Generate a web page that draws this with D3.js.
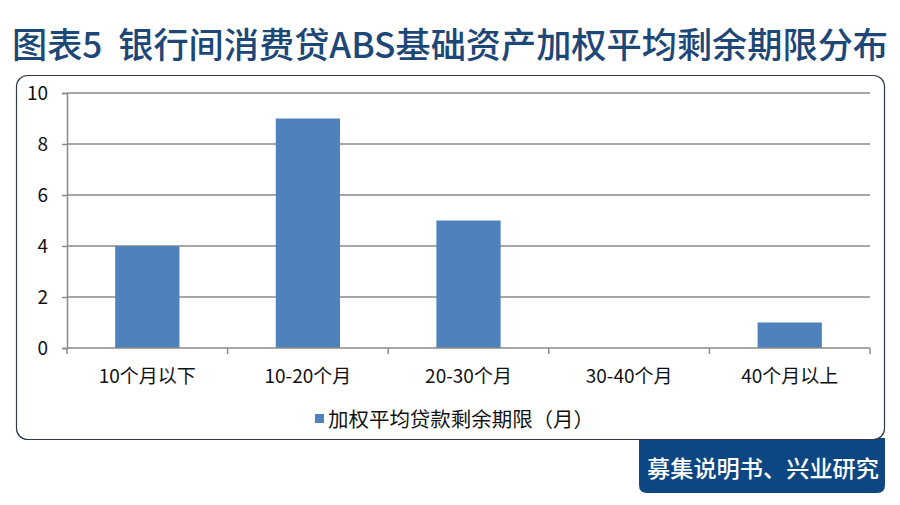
<!DOCTYPE html>
<html><head><meta charset="utf-8">
<script src="https://cdn.jsdelivr.net/npm/d3@7"></script>
<style>
html,body{margin:0;padding:0;background:#fff;}
svg{display:block;}
</style></head>
<body>
<svg id="chart" width="900" height="505"></svg>
<script>
const titleText = "图表5  银行间消费贷ABS基础资产加权平均剩余期限分布";
const categories = ["10个月以下", "10-20个月", "20-30个月", "30-40个月", "40个月以上"];
const values = [4, 9, 5, 0, 1];
const yTicks = [0, 2, 4, 6, 8, 10];
const seriesName = "加权平均贷款剩余期限（月）";
const sourceText = "募集说明书、兴业研究";

const svg = d3.select("#chart");
const font = "'Noto Sans CJK SC','Noto Sans',sans-serif";

// Title
svg.append("text").attr("x", 12).attr("y", 58)
  .attr("font-family", font).attr("font-size", 35).attr("font-weight", 500)
  .attr("fill", "#1d4777")
  .attr("textLength", 876).attr("lengthAdjust", "spacingAndGlyphs")
  .style("white-space", "pre")
  .text(titleText);

// Source box
const sx = 639, sy = 438, sw = 246, sh = 55, r = 8;
svg.append("path")
  .attr("d", `M${sx},${sy} H${sx+sw} V${sy+sh-r} Q${sx+sw},${sy+sh} ${sx+sw-r},${sy+sh} H${sx+r} Q${sx},${sy+sh} ${sx},${sy+sh-r} Z`)
  .attr("fill", "#0c4683");
svg.append("text").attr("x", 879).attr("y", 477)
  .attr("text-anchor", "end")
  .attr("font-family", font).attr("font-size", 23).attr("font-weight", 500)
  .attr("fill", "#fff")
  .attr("textLength", 232).attr("lengthAdjust", "spacingAndGlyphs")
  .text(sourceText);

// Frame
svg.append("rect").attr("x", 16.5).attr("y", 75.5).attr("width", 868).attr("height", 364)
  .attr("rx", 11).attr("ry", 11)
  .attr("fill", "#fff").attr("stroke", "#2f3a45").attr("stroke-width", 1.2);

// Scales
const x0 = 67, x1 = 870, yTop = 93, yBot = 348;
const x = d3.scaleBand().domain(categories).range([x0, x1]).paddingInner(0.6).paddingOuter(0.3);
const y = d3.scaleLinear().domain([0, 10]).range([yBot, yTop]);

const g = svg.append("g");

// Gridlines
g.selectAll("line.grid").data(yTicks.filter(d => d > 0)).enter().append("line")
  .attr("x1", x0).attr("x2", x1)
  .attr("y1", d => y(d)).attr("y2", d => y(d))
  .attr("stroke", "#8a8a8a").attr("stroke-width", 1.5);

// Bars
g.selectAll("rect.bar").data(values).enter().append("rect")
  .attr("x", (d, i) => x(categories[i]))
  .attr("y", d => y(d))
  .attr("width", x.bandwidth())
  .attr("height", d => yBot - y(d))
  .attr("fill", "#4f81bd");

// Y axis
const yAxis = d3.axisLeft(y).tickValues(yTicks).tickSize(5).tickPadding(14).tickFormat(d3.format("d"));
const ya = svg.append("g").attr("transform", `translate(${x0},0)`).call(yAxis);
ya.attr("font-size", null).attr("font-family", null);
ya.select(".domain").attr("stroke", "#8a8a8a").attr("stroke-width", 1.5);
ya.selectAll(".tick line").attr("stroke", "#8a8a8a").attr("stroke-width", 1.5);
ya.selectAll(".tick text").attr("font-family", font).attr("font-size", 19).attr("fill", "#111");

// X axis
const step = (x1 - x0) / categories.length;
const xa = svg.append("g").attr("transform", `translate(0,${yBot})`);
xa.append("line").attr("x1", x0).attr("x2", x1).attr("stroke", "#8a8a8a").attr("stroke-width", 1.5);
const bounds = d3.range(categories.length + 1).map(i => x0 + i * step);
xa.selectAll("line.tk").data(bounds).enter().append("line")
  .attr("x1", d => d).attr("x2", d => d).attr("y1", 0).attr("y2", 6)
  .attr("stroke", "#8a8a8a").attr("stroke-width", 1.5);
xa.selectAll("text").data(categories).enter().append("text")
  .attr("x", d => x(d) + x.bandwidth() / 2)
  .attr("y", 35)
  .attr("text-anchor", "middle")
  .attr("font-family", font).attr("font-size", 19).attr("fill", "#111")
  .text(d => d);

// Legend
svg.append("rect").attr("x", 315).attr("y", 414).attr("width", 9).attr("height", 9).attr("fill", "#4f81bd");
svg.append("text").attr("x", 328).attr("y", 427)
  .attr("font-family", font).attr("font-size", 20).attr("fill", "#111")
  .attr("textLength", 266).attr("lengthAdjust", "spacingAndGlyphs")
  .text(seriesName);
</script>
</body></html>
